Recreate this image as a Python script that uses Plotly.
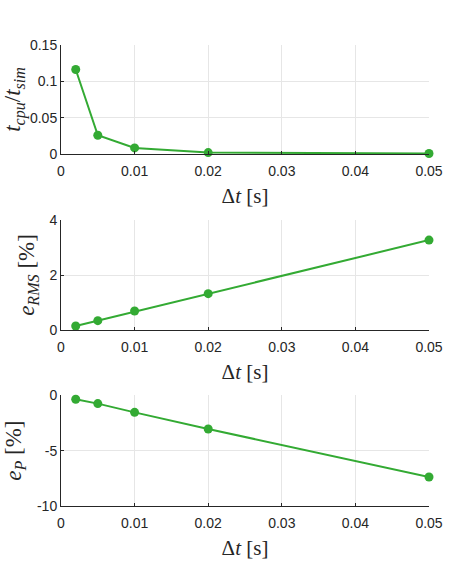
import plotly.graph_objects as go

dt = [0.002, 0.005, 0.01, 0.02, 0.05]
t_ratio = [0.116, 0.026, 0.0087, 0.0023, 0.001]
e_rms = [0.145, 0.34, 0.69, 1.32, 3.27]
e_p = [-0.36, -0.75, -1.54, -3.04, -7.38]

x_ticks = [0, 0.01, 0.02, 0.03, 0.04, 0.05]
x_labels = ["0", "0.01", "0.02", "0.03", "0.04", "0.05"]
y1_ticks = [0, 0.05, 0.1, 0.15]
y1_labels = ["0", "0.05", "0.1", "0.15"]
y2_ticks = [0, 2, 4]
y2_labels = ["0", "2", "4"]
y3_ticks = [-10, -5, 0]
y3_labels = ["-10", "-5", "0"]

green = "rgb(51,170,51)"

fig = go.Figure()
series = [t_ratio, e_rms, e_p]
for i, ys in enumerate(series):
    sfx = "" if i == 0 else str(i + 1)
    fig.add_trace(go.Scatter(
        x=dt, y=ys, mode="lines+markers",
        line=dict(color=green, width=2),
        marker=dict(color=green, size=9),
        cliponaxis=False, showlegend=False,
        xaxis="x" + sfx, yaxis="y" + sfx,
    ))

tickfont = dict(family="Liberation Sans", size=14, color="#262626")
xtitlefont = dict(family="Liberation Serif", size=21, color="#262626")
ytitlefont = dict(family="Liberation Serif", size=23, color="#262626")
xtitle = "Δ<i>t</i> [s]"

def xax(anchor):
    return dict(
        range=[0, 0.05], tickvals=x_ticks, ticktext=x_labels,
        showgrid=True, gridcolor="#e6e6e6", gridwidth=1,
        showline=True, linecolor="#262626", linewidth=1,
        ticks="inside", ticklen=3, tickcolor="#262626",
        tickfont=tickfont, zeroline=False, anchor=anchor,
        ticklabelstandoff=4, automargin=False,
        title=dict(text=xtitle, font=xtitlefont, standoff=10),
    )

def yax(rng, tv, tt, dom, title):
    return dict(
        range=rng, tickvals=tv, ticktext=tt, domain=dom,
        showgrid=True, gridcolor="#e6e6e6", gridwidth=1,
        showline=True, linecolor="#262626", linewidth=1,
        ticks="inside", ticklen=3, tickcolor="#262626",
        tickfont=tickfont, zeroline=False, automargin=False,
        title=dict(text=title, font=ytitlefont, standoff=8),
    )

fig.update_layout(
    width=474, height=587,
    margin=dict(l=61, r=45, t=44, b=81),
    paper_bgcolor="white", plot_bgcolor="white",
    xaxis=xax("y"), xaxis2=xax("y2"), xaxis3=xax("y3"),
    yaxis=yax([0, 0.15], y1_ticks, y1_labels, [0.7613, 0.9985],
              "<i>t<sub>cpu</sub></i>/<i>t<sub>sim</sub></i>"),
    yaxis2=yax([0, 4], y2_ticks, y2_labels, [0.381, 0.619],
               "<i>e<sub>RMS</sub></i> [%]"),
    yaxis3=yax([-10, 0], y3_ticks, y3_labels, [0, 0.2396],
               "<i>e<sub>P</sub></i> [%]"),
)

fig.write_html("out.html")
